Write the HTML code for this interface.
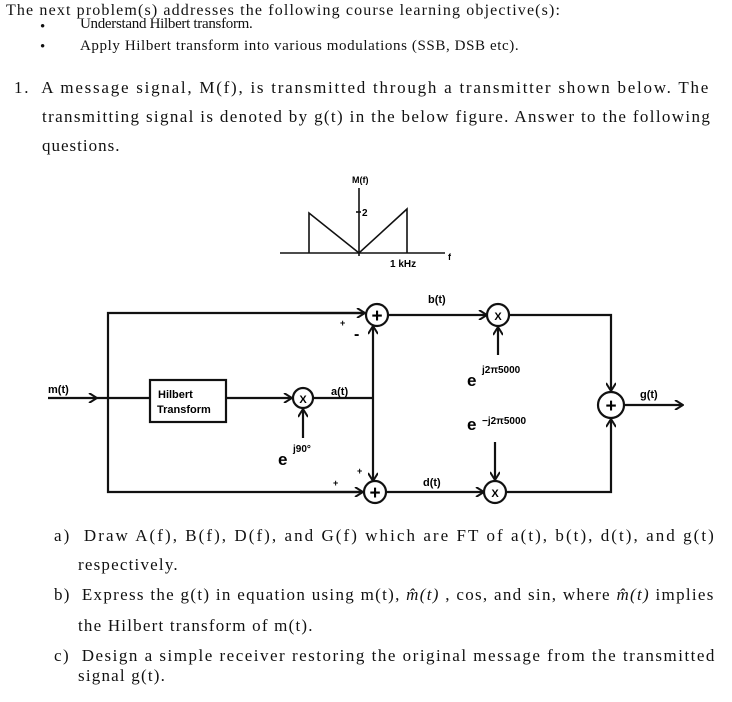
<!DOCTYPE html>
<html><head><style>
body{margin:0;width:732px;height:702px;background:#fff;font-family:"Liberation Serif",serif;color:#111;position:relative;overflow:hidden}
.t{position:absolute;white-space:nowrap}
.s{font-size:15px}
.m{font-size:17px}
</style></head><body>
<div class="t" style="left:6px;top:2px;font-size:16px;letter-spacing:1.14px">The next problem(s) addresses the following course learning objective(s):</div>
<div class="t s" style="left:40px;top:19px">•</div>
<div class="t s" style="left:80px;top:16px;letter-spacing:-0.3px">Understand Hilbert transform.</div>
<div class="t s" style="left:40px;top:39px">•</div>
<div class="t s" style="left:80px;top:38px;letter-spacing:0.6px">Apply Hilbert transform into various modulations (SSB, DSB etc).</div>
<div class="t m" style="left:14px;top:78px;letter-spacing:1.75px">1.&nbsp; A message signal, M(f), is transmitted through a transmitter shown below. The</div>
<div class="t m" style="left:42px;top:107px;letter-spacing:1.35px">transmitting signal is denoted by g(t) in the below figure. Answer to the following</div>
<div class="t m" style="left:42px;top:136px;letter-spacing:1px">questions.</div>

<svg width="732" height="702" style="position:absolute;left:0;top:0" font-family="Liberation Sans, sans-serif" font-weight="bold">
<defs><marker id="a" markerWidth="10" markerHeight="10" refX="9" refY="5" orient="auto" markerUnits="userSpaceOnUse"><path d="M1,0 L9,5 L1,10" fill="none" stroke="#111" stroke-width="2"/></marker></defs>
<g stroke="#111" stroke-width="1.6" fill="none">
<line x1="359" y1="188" x2="359" y2="256"/>
<line x1="280" y1="253" x2="445" y2="253"/>
<polyline points="309,253 309,213 359,253 407,209 407,253"/>
<line x1="356" y1="212" x2="361" y2="212"/>
</g>
<text x="352" y="183" font-size="9">M(f)</text>
<text x="362" y="216" font-size="10">2</text>
<text x="390" y="267" font-size="10">1 kHz</text>
<text x="448" y="260" font-size="9">f</text>
<g stroke="#111" stroke-width="2.2" fill="none">
<line x1="48" y1="398" x2="97" y2="398" marker-end="url(#a)"/>
<polyline points="365,313 108,313 108,492 363,492" />
<line x1="300" y1="313" x2="365" y2="313" marker-end="url(#a)"/>
<line x1="300" y1="492" x2="363" y2="492" marker-end="url(#a)"/>
<line x1="97" y1="398" x2="150" y2="398"/>
<rect x="150" y="380" width="76" height="42"/>
<line x1="226" y1="398" x2="292" y2="398" marker-end="url(#a)"/>
<circle cx="303" cy="398" r="10"/>
<line x1="303" y1="438" x2="303" y2="409" marker-end="url(#a)"/>
<line x1="313" y1="398" x2="373" y2="398"/>
<circle cx="377" cy="315" r="11"/>
<circle cx="375" cy="492" r="11"/>
<line x1="373" y1="398" x2="373" y2="326" marker-end="url(#a)"/>
<line x1="373" y1="398" x2="373" y2="481" marker-end="url(#a)"/>
<line x1="388" y1="315" x2="487" y2="315" marker-end="url(#a)"/>
<circle cx="498" cy="315" r="11"/>
<line x1="498" y1="355" x2="498" y2="327" marker-end="url(#a)"/>
<polyline points="509,315 611,315 611,391" marker-end="url(#a)"/>
<circle cx="611" cy="405" r="13"/>
<line x1="495" y1="442" x2="495" y2="480" marker-end="url(#a)"/>
<line x1="386" y1="492" x2="484" y2="492" marker-end="url(#a)"/>
<circle cx="495" cy="492" r="11"/>
<polyline points="506,492 611,492 611,419" marker-end="url(#a)"/>
<line x1="624" y1="405" x2="683" y2="405" marker-end="url(#a)"/>
</g>
<g font-size="19" font-weight="bold" text-anchor="middle">
<text x="377" y="322">+</text><text x="375" y="499">+</text><text x="611" y="412">+</text>
</g>
<g font-size="11" text-anchor="middle">
<text x="303" y="403">X</text><text x="498" y="320">X</text><text x="495" y="497">X</text>
</g>
<g font-size="11">
<text x="48" y="393">m(t)</text>
<text x="158" y="398">Hilbert</text>
<text x="157" y="413">Transform</text>
<text x="331" y="395">a(t)</text>
<text x="428" y="303">b(t)</text>
<text x="423" y="486">d(t)</text>
<text x="640" y="398">g(t)</text>
<text x="340" y="326" font-size="9">+</text>
<text x="354" y="339" font-size="16">-</text>
<text x="357" y="474" font-size="9">+</text>
<text x="333" y="486" font-size="9">+</text>
</g>
<text x="278" y="465" font-size="17">e</text><text x="293" y="452" font-size="10">j90°</text>
<text x="467" y="386" font-size="17">e</text><text x="482" y="373" font-size="10">j2π5000</text>
<text x="467" y="430" font-size="17">e</text><text x="482" y="424" font-size="10">−j2π5000</text>
</svg>

<div class="t m" style="left:54px;top:526px;letter-spacing:2.05px">a)&nbsp; Draw A(f), B(f), D(f), and G(f) which are FT of a(t), b(t), d(t), and g(t)</div>
<div class="t m" style="left:78px;top:555px;letter-spacing:1.2px">respectively.</div>
<div class="t m" style="left:54px;top:585px;letter-spacing:1.3px">b)&nbsp; Express the g(t) in equation using m(t), <i>m̂(t)</i> , cos, and sin, where <i>m̂(t)</i> implies</div>
<div class="t m" style="left:78px;top:616px;letter-spacing:1.2px">the Hilbert transform of m(t).</div>
<div class="t m" style="left:54px;top:646px;letter-spacing:1.5px">c)&nbsp; Design a simple receiver restoring the original message from the transmitted</div>
<div class="t m" style="left:78px;top:666px;letter-spacing:1.2px">signal g(t).</div>
</body></html>
